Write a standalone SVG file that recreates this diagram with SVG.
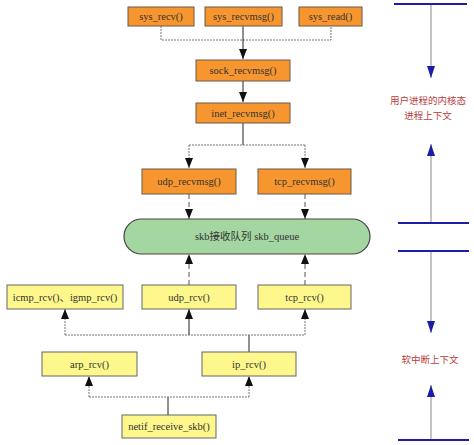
<svg xmlns="http://www.w3.org/2000/svg" width="474" height="445" viewBox="0 0 474 445">
<style>
.o{fill:#f7962e;stroke:#6b5a4a;stroke-width:1}
.y{fill:#fdf78c;stroke:#666;stroke-width:1}
.g{fill:#a3d6a0;stroke:#444;stroke-width:1.2}
.t{font-family:"Liberation Serif","Noto Sans CJK SC",serif;font-size:10.5px;fill:#333;text-anchor:middle;dominant-baseline:central}
.k{fill:none;stroke:#222;stroke-width:1}
.d{fill:none;stroke:#777;stroke-width:1;stroke-dasharray:2,1}
.ds{fill:none;stroke:#555;stroke-width:1;stroke-dasharray:5,3}
.bl{stroke:#1c1ca8;stroke-width:2}
.vl{stroke:#888;stroke-width:1}
.r{font-family:"Noto Sans CJK SC","Liberation Serif",serif;font-size:9.5px;fill:#b8403c;text-anchor:middle;dominant-baseline:central}
</style>
<defs>
<marker id="ah" markerUnits="userSpaceOnUse" markerWidth="10" markerHeight="8" refX="10" refY="4" orient="auto"><path d="M0,0 L10,4 L0,8 z" fill="#111"/></marker>
<marker id="bh" markerUnits="userSpaceOnUse" markerWidth="12" markerHeight="8" refX="12" refY="4" orient="auto"><path d="M0,0 L12,4 L0,8 z" fill="#1c1ca8"/></marker>
</defs>
<g id="connectors">
<path class="d" d="M161,26 V40 H331 V26"/>
<path class="k" d="M243,26 V59" marker-end="url(#ah)"/>
<path class="k" d="M243,81 V102" marker-end="url(#ah)"/>
<path class="k" d="M243,123 V145"/>
<path class="d" d="M189,145 H305"/>
<path class="d" d="M189,145 V168" marker-end="url(#ah)"/>
<path class="d" d="M305,145 V168" marker-end="url(#ah)"/>
<path class="ds" d="M189,194 V219" marker-end="url(#ah)"/>
<path class="ds" d="M305,194 V219" marker-end="url(#ah)"/>
<path class="ds" d="M189,285 V254" marker-end="url(#ah)"/>
<path class="ds" d="M305,285 V254" marker-end="url(#ah)"/>
<path class="k" d="M249,352 V335"/>
<path class="d" d="M65,335 H305"/>
<path class="d" d="M65,335 V309" marker-end="url(#ah)"/>
<path class="k" d="M189,335 V309" marker-end="url(#ah)"/>
<path class="d" d="M305,335 V309" marker-end="url(#ah)"/>
<path class="k" d="M168,415 V397"/>
<path class="d" d="M89,397 H249"/>
<path class="d" d="M89,397 V376" marker-end="url(#ah)"/>
<path class="d" d="M249,397 V376" marker-end="url(#ah)"/>
</g>
<g id="n_sys_recv"><rect class="o" x="128" y="7" width="66" height="19"/><text class="t" x="161" y="16.5">sys_recv()</text></g>
<g id="n_sys_recvmsg"><rect class="o" x="205" y="7" width="77" height="19"/><text class="t" x="243.5" y="16.5">sys_recvmsg()</text></g>
<g id="n_sys_read"><rect class="o" x="299" y="7" width="63" height="19"/><text class="t" x="330.5" y="16.5">sys_read()</text></g>
<g id="n_sock"><rect class="o" x="196" y="60" width="94" height="21"/><text class="t" x="243" y="70.5">sock_recvmsg()</text></g>
<g id="n_inet"><rect class="o" x="196" y="103" width="94" height="20"/><text class="t" x="243" y="113">inet_recvmsg()</text></g>
<g id="n_udp_recvmsg"><rect class="o" x="142" y="169" width="94" height="25"/><text class="t" x="189" y="181.5">udp_recvmsg()</text></g>
<g id="n_tcp_recvmsg"><rect class="o" x="258" y="169" width="93" height="25"/><text class="t" x="304.5" y="181.5">tcp_recvmsg()</text></g>
<g id="n_skb"><rect class="g" x="124" y="219" width="246" height="35" rx="17.5"/><text class="t" x="247" y="236.5">skb接收队列 skb_queue</text></g>
<g id="n_icmp"><rect class="y" x="7" y="285" width="116" height="24"/><text class="t" x="65" y="297">icmp_rcv()、igmp_rcv()</text></g>
<g id="n_udp_rcv"><rect class="y" x="142" y="285" width="94" height="24"/><text class="t" x="189" y="297">udp_rcv()</text></g>
<g id="n_tcp_rcv"><rect class="y" x="258" y="285" width="93" height="24"/><text class="t" x="304.5" y="297">tcp_rcv()</text></g>
<g id="n_arp"><rect class="y" x="42" y="352" width="95" height="24"/><text class="t" x="89.5" y="364">arp_rcv()</text></g>
<g id="n_ip"><rect class="y" x="202" y="352" width="94" height="24"/><text class="t" x="249" y="364">ip_rcv()</text></g>
<g id="n_netif"><rect class="y" x="122" y="415" width="94" height="23"/><text class="t" x="169" y="426.5">netif_receive_skb()</text></g>
<g id="context">
<line class="bl" x1="394" y1="4" x2="467" y2="4"/>
<line class="bl" x1="398" y1="223" x2="469" y2="223"/>
<line class="bl" x1="398" y1="251" x2="469" y2="251"/>
<line class="bl" x1="398" y1="440" x2="469" y2="440"/>
<line class="vl" x1="431" y1="5" x2="431" y2="78" marker-end="url(#bh)"/>
<line class="vl" x1="431" y1="222" x2="431" y2="144" marker-end="url(#bh)"/>
<line class="vl" x1="431" y1="252" x2="431" y2="333" marker-end="url(#bh)"/>
<line class="vl" x1="431" y1="439" x2="431" y2="385" marker-end="url(#bh)"/>
<text class="r" x="428" y="100">用户进程的内核态</text>
<text class="r" x="428" y="115">进程上下文</text>
<text class="r" x="430" y="359">软中断上下文</text>
</g>
</svg>
